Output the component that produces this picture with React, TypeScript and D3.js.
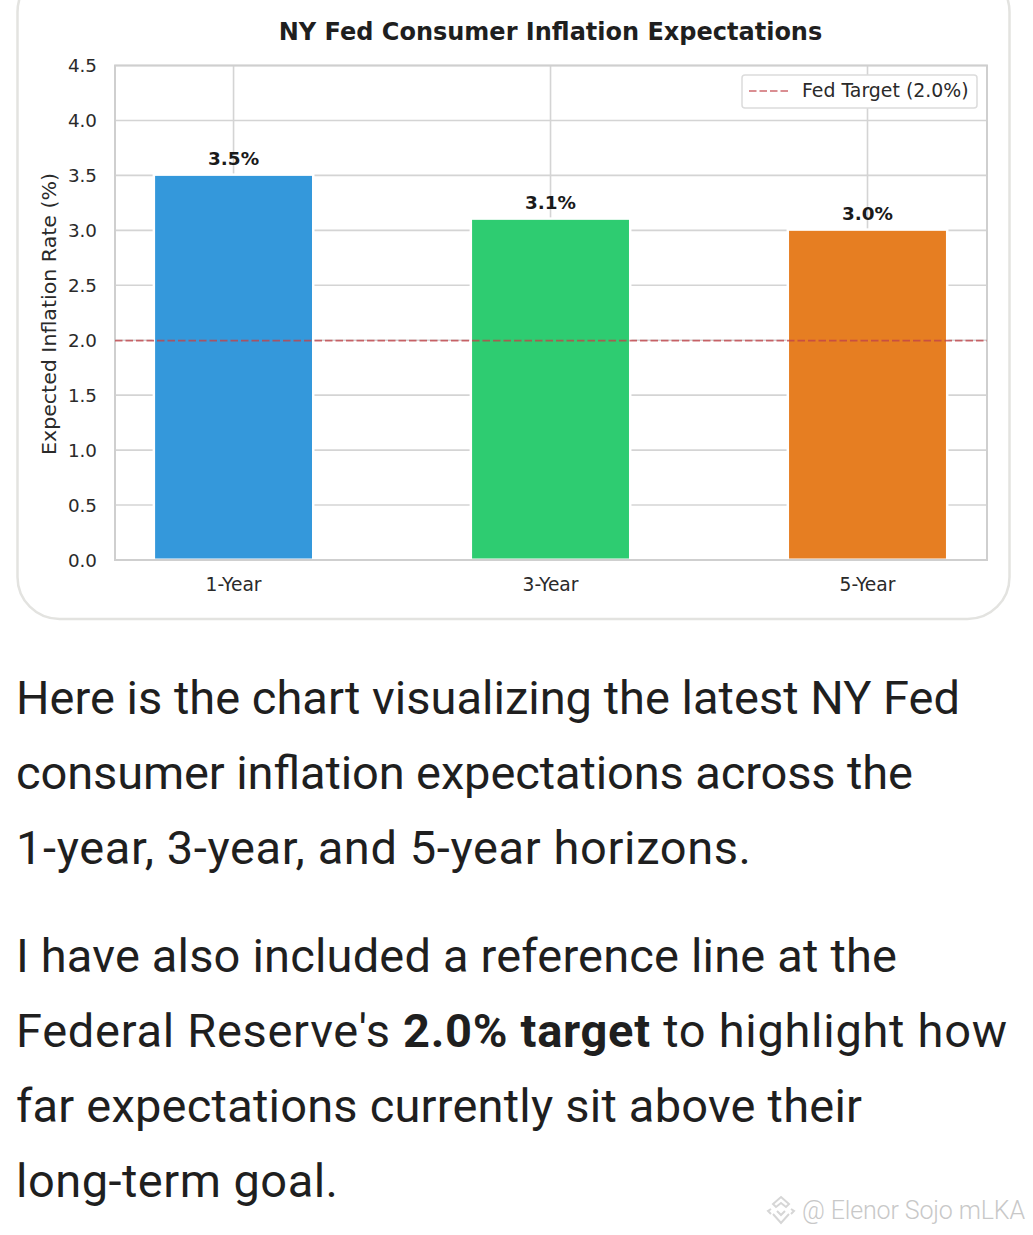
import React from "react";
import * as d3 from "d3";

const categories = ["1-Year", "3-Year", "5-Year"];
const values = [3.5, 3.1, 3.0];
const barColors = ["#3498db", "#2ecc71", "#e67e22"];
const yTicks = [0, 0.5, 1, 1.5, 2, 2.5, 3, 3.5, 4, 4.5];
const targetValue = 2.0;
const chartTitle = "NY Fed Consumer Inflation Expectations";
const yLabel = "Expected Inflation Rate (%)";
const legendLabel = "Fed Target (2.0%)";
const watermark = "@ Elenor Sojo mLKA";

const W = 1033;
const H = 1235;
const L = 115, R = 987, T = 65.5, B = 560;
const CHART = "'DejaVu Sans', sans-serif";
const BODY = "Roboto, sans-serif";
const INK = "#2a2a2a";
const GRID = "#d4d4d4";
const RED = "#c0444a";

export default function App() {
  const x = d3.scaleLinear().domain([-0.374, 2.377]).range([L, R]);
  const y = d3.scaleLinear().domain([0, 4.5]).range([B, T]);
  const barW = x(0.495) - x(0);
  const bodyText = { fontFamily: BODY, fontSize: 47, fill: "#1f1f1f", lengthAdjust: "spacing" } as const;
  return (
    <svg width={W} height={H} viewBox={`0 0 ${W} ${H}`} style={{ position: "absolute", left: 0, top: 0, background: "#fff" }}>
      <rect x={17.5} y={-30} width={992} height={649} rx={42} fill="#fff" stroke="#e3e3e0" strokeWidth={2.5} />

      <text x={550.5} y={39.5} textAnchor="middle" fontFamily={CHART} fontWeight={700} fontSize={24} fill="#1f1f1f">{chartTitle}</text>

      {yTicks.map((t) => (
        <line key={t} x1={L} x2={R} y1={y(t)} y2={y(t)} stroke={GRID} strokeWidth={1.6} />
      ))}
      {categories.map((c, i) => (
        <line key={c} x1={x(i)} x2={x(i)} y1={T} y2={B} stroke={GRID} strokeWidth={1.6} />
      ))}

      {categories.map((c, i) => (
        <rect key={c + "halo"} x={x(i) - barW / 2 - 2.5} y={y(values[i]) - 2} width={barW + 5} height={B - y(values[i]) + 2} fill="#fff" />
      ))}
      <rect x={L} y={T} width={R - L} height={B - T} fill="none" stroke="#cfcfcf" strokeWidth={2} />
      {categories.map((c, i) => (
        <rect key={c} x={x(i) - barW / 2} y={y(values[i]) + 0.5} width={barW} height={B - y(values[i]) - 2} fill={barColors[i]} />
      ))}

      <line x1={L} x2={R} y1={y(targetValue) + 0.5} y2={y(targetValue) + 0.5} stroke={RED} strokeOpacity={0.8} strokeWidth={1.7} strokeDasharray="7.5,3" />

      {yTicks.map((t) => (
        <text key={t} x={97} y={y(t) + 6.5} textAnchor="end" fontFamily={CHART} fontSize={18.3} fill={INK}>{t.toFixed(1)}</text>
      ))}
      {categories.map((c, i) => (
        <text key={c} x={x(i)} y={591} textAnchor="middle" fontFamily={CHART} fontSize={18.7} fill={INK}>{c}</text>
      ))}
      {categories.map((c, i) => (
        <text key={c} x={x(i)} y={y(values[i]) - 10.5} textAnchor="middle" fontWeight={700} fontFamily={CHART} fontSize={18.4} fill="#1a1a1a">{values[i].toFixed(1)}%</text>
      ))}

      <text transform="translate(56,314) rotate(-90)" textAnchor="middle" fontFamily={CHART} fontSize={19.5} textLength={282} lengthAdjust="spacingAndGlyphs" fill={INK}>{yLabel}</text>

      <rect x={742} y={75} width={235} height={33} rx={3} fill="#fff" stroke="#dcdcdc" strokeWidth={1.5} />
      <line x1={749} x2={789} y1={91} y2={91} stroke={RED} strokeOpacity={0.8} strokeWidth={1.7} strokeDasharray="7.5,3" />
      <text x={802} y={97} fontFamily={CHART} fontSize={18.9} fill={INK}>{legendLabel}</text>

      <text x={16} y={714} textLength={944} {...bodyText}>Here is the chart visualizing the latest NY Fed</text>
      <text x={16} y={789} textLength={897} {...bodyText}>consumer inflation expectations across the</text>
      <text x={16} y={864} textLength={735} {...bodyText}>1-year, 3-year, and 5-year horizons.</text>
      <text x={16} y={972} textLength={881} {...bodyText}>I have also included a reference line at the</text>
      <text x={16} y={1047} textLength={991} {...bodyText}>Federal Reserve's <tspan fontWeight={700}>2.0% target</tspan> to highlight how</text>
      <text x={16} y={1122} textLength={846} {...bodyText}>far expectations currently sit above their</text>
      <text x={16} y={1197} textLength={322} {...bodyText}>long-term goal.</text>

      <g fill="none" stroke="#d6d6d6" strokeWidth={2}>
        <path d="M781 1197 l8 7 l-3 3 l-5 -4 l-5 4 l-3 -3 z" />
        <path d="M771 1209 l-3 2 l3 3 M791 1209 l3 2 l-3 3" />
        <path d="M773 1214 l8 9 l8 -9" />
        <path d="M777 1211 l4 4 l4 -4" />
      </g>
      <text x={802} y={1219} fontFamily={BODY} fontWeight={300} fontSize={25} textLength={223} lengthAdjust="spacing" fill="#c8c8c8">{watermark}</text>
    </svg>
  );
}
